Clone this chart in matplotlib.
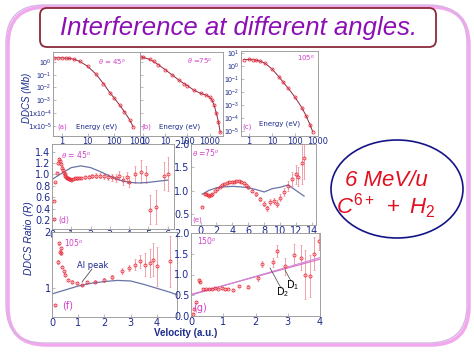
# -*- coding: utf-8 -*-
# Interference at different angles: 6 MeV/u C6+ + H2 DDCS slide

import matplotlib
matplotlib.use('Agg')
import matplotlib.pyplot as plt
from matplotlib.patches import FancyBboxPatch, Ellipse

W, H = 474, 355

# ---- top row: DDCS (Mb) vs electron energy (eV)
energy_a = [0.5, 0.7, 1, 1.5, 2, 3, 5, 10, 20, 40, 70, 100, 170, 250, 400, 550]
ddcs_a = [2.0, 2.1, 2.1, 2.0, 1.9, 1.6, 1.1, 0.45, 0.12, 0.02, 4e-3, 1.6e-3, 4e-4, 1.3e-4, 3e-5, 8e-6]

energy_b = [0.8, 1, 2, 3, 5, 10, 20, 40, 70, 100, 200, 400, 700, 1000, 1300, 1600, 2000, 2500, 3000]
ddcs_b = [2.5, 2.3, 1.6, 1.1, 0.6, 0.25, 0.1, 0.04, 0.02, 0.014, 6e-3, 3.5e-3, 2.5e-3, 1.8e-3, 1e-3, 4e-4, 1e-4, 2e-5, 3e-6]

energy_c = [0.6, 1, 1.5, 2, 3, 5, 10, 20, 30, 50, 100, 200, 300, 450, 600]
ddcs_c = [3.0, 3.2, 3.0, 2.8, 2.4, 1.6, 0.6, 0.15, 0.06, 0.02, 4e-3, 6e-4, 1.5e-4, 3e-5, 8e-6]

# ---- middle / bottom rows: DDCS ratio vs electron velocity (a.u.)
vel_d = [0.09, 0.12, 0.17, 0.26, 0.3, 0.35, 0.4, 0.45, 0.5, 0.55, 0.6, 0.65, 0.7, 0.75, 0.8,
         0.85, 0.9, 0.95, 1.0, 1.1, 1.2, 1.3, 1.4, 1.5, 1.7, 1.9, 2.1, 2.3, 2.5, 2.7, 2.9,
         3.1, 3.3, 3.5, 3.7, 3.9, 4.0, 4.3, 4.6, 4.9, 5.1, 5.4, 5.8, 6.0]
ratio_d = [0.22, 0.54, 0.86, 1.03, 1.2, 1.27, 1.24, 1.18, 1.12, 1.07, 1.03, 1.0, 0.98, 0.96,
           0.94, 0.93, 0.92, 0.92, 0.91, 0.92, 0.93, 0.93, 0.94, 0.94, 0.95, 0.96, 0.97, 0.98,
           0.98, 0.97, 0.96, 0.95, 0.93, 0.98, 0.90, 0.95, 0.87, 1.0, 1.05, 1.0, 0.38, 0.42, 0.97, 1.0]
err_d = [0.01, 0.01, 0.01, 0.01, 0.02, 0.02, 0.02, 0.02, 0.02, 0.02, 0.02, 0.02, 0.02, 0.02,
         0.02, 0.02, 0.02, 0.02, 0.02, 0.02, 0.02, 0.02, 0.02, 0.02, 0.03, 0.03, 0.03, 0.04,
         0.04, 0.05, 0.05, 0.06, 0.07, 0.08, 0.08, 0.1, 0.1, 0.15, 0.2, 0.15, 0.25, 0.3, 0.25, 0.3]
vel_d_theory = [0, 0.5, 1, 1.5, 2, 2.5, 3, 3.5, 4, 4.5, 5, 5.5, 6]
ratio_d_theory = [0.91, 1.02, 1.12, 1.15, 1.12, 1.05, 0.97, 0.9, 0.86, 0.85, 0.86, 0.88, 0.9]

vel_e = [0.2, 0.5, 0.7, 0.9, 1.1, 1.3, 1.5, 1.8, 2.1, 2.4, 2.7, 3.0, 3.3, 3.6, 3.9, 4.2, 4.5,
         4.8, 5.1, 5.4, 5.7, 6.0, 6.5, 7.0, 7.5, 8.0, 8.3, 8.7, 9.2, 9.6, 10.0, 10.5, 11.0,
         11.5, 12.0, 12.3, 12.7, 13.0]
ratio_e = [0.65, 0.93, 0.92, 0.9, 0.89, 0.9, 0.93, 0.98, 1.03, 1.08, 1.12, 1.15, 1.17, 1.18,
           1.18, 1.19, 1.2, 1.2, 1.18, 1.16, 1.12, 1.07, 1.0, 0.92, 0.82, 0.72, 0.62, 0.75,
           0.78, 0.72, 0.85, 0.97, 1.1, 1.25, 1.35, 1.3, 1.6, 1.7]
err_e = [0.01, 0.01, 0.01, 0.01, 0.01, 0.01, 0.01, 0.01, 0.01, 0.01, 0.01, 0.02, 0.02, 0.02,
         0.02, 0.02, 0.02, 0.02, 0.02, 0.02, 0.02, 0.03, 0.03, 0.04, 0.04, 0.05, 0.05, 0.06,
         0.06, 0.07, 0.08, 0.08, 0.1, 0.15, 0.2, 0.2, 0.45, 0.45]
vel_e_theory = [0.2, 1, 2, 3, 4, 5, 6, 7, 8, 9, 10, 11, 12, 13]
ratio_e_theory = [0.92, 1.0, 1.06, 1.08, 1.09, 1.08, 1.06, 1.02, 0.97, 1.04, 1.07, 1.12, 1.0, 0.88]

vel_f = [0.13, 0.23, 0.27, 0.3, 0.33, 0.36, 0.39, 0.45, 0.5, 0.62, 0.75, 0.94, 1.14, 1.33,
         1.65, 1.97, 2.28, 2.67, 2.92, 3.17, 3.37, 3.56, 3.75, 3.87, 4.0, 4.5]
ratio_f = [0.7, 1.47, 1.8, 1.65, 1.71, 1.62, 1.38, 1.3, 1.24, 1.15, 1.12, 1.09, 1.06, 1.11,
           1.12, 1.15, 1.2, 1.31, 1.36, 1.42, 1.48, 1.42, 1.45, 1.51, 1.39, 1.48]
err_f = [0.02, 0.03, 0.03, 0.03, 0.03, 0.03, 0.02, 0.02, 0.02, 0.02, 0.02, 0.02, 0.02, 0.02,
         0.03, 0.03, 0.04, 0.05, 0.06, 0.1, 0.12, 0.2, 0.25, 0.3, 0.35, 0.45]
vel_f_theory = [0, 0.5, 1, 1.5, 2, 2.5, 3, 3.5, 4, 4.5, 4.8]
ratio_f_theory = [0.9, 0.97, 1.04, 1.09, 1.12, 1.14, 1.13, 1.07, 1.0, 0.93, 0.88]

vel_g = [0.05, 0.1, 0.16, 0.26, 0.28, 0.36, 0.45, 0.55, 0.65, 0.75, 0.85, 0.95, 1.05, 1.15,
         1.3, 1.5, 1.77, 2.09, 2.2, 2.55, 2.67, 2.9, 3.2, 3.41, 3.52, 3.7, 3.8, 3.97]
ratio_g = [0.06, 0.17, 0.33, 0.86, 0.82, 0.66, 0.64, 0.66, 0.65, 0.67, 0.66, 0.68, 0.65, 0.66,
           0.63, 0.72, 0.71, 0.91, 1.25, 1.29, 1.57, 1.2, 1.48, 1.4, 1.0, 0.96, 1.5, 1.8]
err_g = [0.01, 0.02, 0.02, 0.03, 0.03, 0.02, 0.02, 0.02, 0.02, 0.02, 0.02, 0.02, 0.02, 0.02,
         0.02, 0.03, 0.04, 0.06, 0.08, 0.1, 0.15, 0.2, 0.25, 0.3, 0.6, 0.5, 0.4, 0.2]
vel_g_theory = [0, 4]
ratio_g_d1 = [0.52, 1.37]
ratio_g_d2 = [0.5, 1.41]

RED = '#e8303c'
ERR = '#f2a0a8'
THEO = '#6a74a6'
PINK = '#d040c8'
NAVY = '#1c2a8c'
SPINE = '#a0a0a0'

plt.rcParams['mathtext.fontset'] = 'custom'
plt.rcParams['mathtext.it'] = 'Liberation Sans:italic'
plt.rcParams['mathtext.rm'] = 'Liberation Sans'


def box(x0, y0, x1, y1):
    return [x0 / W, 1 - y1 / H, (x1 - x0) / W, (y1 - y0) / H]


def style(ax, size=6.5):
    for s in ax.spines.values():
        s.set_color(SPINE)
        s.set_linewidth(0.7)
    ax.tick_params(direction='in', length=2, width=0.5, colors=SPINE,
                   labelcolor=NAVY, labelsize=size, pad=1)


fig = plt.figure(figsize=(W / 100, H / 100), dpi=100)
fig.patch.set_facecolor('white')

# ---- top row
top_ylim = (10 ** -5.8, 10 ** 0.78)
for rect, en, dd, xlim in [((53, 52, 140, 136), energy_a, ddcs_a, (0.47, 690)),
                           ((140, 52, 223, 136), energy_b, ddcs_b, (0.74, 4000)),
                           ((241, 51, 318, 136), energy_c, ddcs_c, (0.46, 750))]:
    ax = fig.add_axes(box(*rect))
    ax.set_xscale('log')
    ax.set_yscale('log')
    ax.plot(en, dd, color='#8a2a4a', lw=0.7)
    ax.plot(en, dd, 'o', ms=2.2, mfc='none', mec=RED, mew=0.6)
    ax.set_xlim(*xlim)
    ax.set_xticks([1, 10, 100, 1000])
    ax.set_xticklabels(['1', '10', '100', '1000'])
    ax.minorticks_off()
    style(ax, 6)
    if rect[0] == 53:
        ax.set_ylim(*top_ylim)
        ax.set_yticks([1, 0.1, 0.01, 1e-3, 1e-4, 1e-5])
        ax.set_yticklabels([r'$10^0$', r'$10^{-1}$', r'$10^{-2}$', r'$10^{-3}$',
                            r'1x$10^{-4}$', r'1x$10^{-5}$'])
    elif rect[0] == 140:
        ax.set_ylim(*top_ylim)
        ax.set_yticks([1, 0.1, 0.01, 1e-3, 1e-4, 1e-5])
        ax.set_yticklabels([])
    else:
        ax.set_ylim(10 ** -5.4, 10 ** 1.15)
        ax.set_yticks([10, 1, 0.1, 0.01, 1e-3, 1e-4, 1e-5])
        ax.set_yticklabels([r'$10^{1}$', r'$10^0$', r'$10^{-1}$', r'$10^{-2}$',
                            r'$10^{-3}$', r'$10^{-4}$', r'$10^{-5}$'])
    ax.tick_params(axis='y', labelsize=5)

# ---- ratio panels
panels = [
    ((52, 144, 174, 229), vel_d, ratio_d, err_d, vel_d_theory, ratio_d_theory,
     (0, 6.33), (0.04, 1.535), range(0, 7), [0.2, 0.4, 0.6, 0.8, 1.0, 1.2, 1.4], '%.1f'),
    ((191, 144, 316, 225), vel_e, ratio_e, err_e, vel_e_theory, ratio_e_theory,
     (-1.2, 14.5), (0.26, 2.0), range(0, 15, 2), [0.5, 1.0, 1.5, 2.0], '%.1f'),
    ((52, 232, 177, 317), vel_f, ratio_f, err_f, vel_f_theory, ratio_f_theory,
     (0, 4.77), (0.49, 2.0), range(0, 5), [1, 2], '%d'),
    ((191, 233, 320, 316), vel_g, ratio_g, err_g, None, None,
     (0, 4.0), (0.0, 2.0), range(0, 5), [0.0, 0.5, 1.0, 1.5, 2.0], '%.1f'),
]
for rect, v, r, e, vt, rt, xl, yl, xt, yt, fmt in panels:
    ax = fig.add_axes(box(*rect))
    ax.errorbar(v, r, yerr=e, fmt='o', ms=2.2, mfc='none', mec=RED, mew=0.6,
                ecolor=ERR, elinewidth=0.7, capsize=1, capthick=0.5)
    if vt is not None:
        ax.plot(vt, rt, color=THEO, lw=0.9)
    else:
        ax.plot(vel_g_theory, ratio_g_d1, color='#e070c8', lw=0.9)
        ax.plot(vel_g_theory, ratio_g_d2, color='#c888d8', lw=0.7)
    ax.set_xlim(*xl)
    ax.set_ylim(*yl)
    ax.set_xticks(list(xt))
    ax.set_yticks(yt)
    ax.set_yticklabels([fmt % t for t in yt])
    style(ax, 7)

# ---- overlay for slide decoration and text
ov = fig.add_axes([0, 0, 1, 1], zorder=10)
ov.set_xlim(0, W)
ov.set_ylim(H, 0)
ov.axis('off')
ov.patch.set_alpha(0)

ov.add_patch(FancyBboxPatch((8, 7), 461, 338, boxstyle='round,pad=0,rounding_size=38',
                            ec='#f2a8ec', fc='none', lw=2.5))
ov.add_patch(FancyBboxPatch((6, 5), 461, 338, boxstyle='round,pad=0,rounding_size=38',
                            ec='#d8b4e4', fc='none', lw=1.0))
ov.add_patch(FancyBboxPatch((40, 8), 396, 39, boxstyle='round,pad=0,rounding_size=7',
                            ec='#8a2a3a', fc='white', lw=1.3))
ov.text(239, 28, 'Interference at different angles.', ha='center', va='center',
        fontsize=18.5, style='italic', color='#8c10b4', family='Liberation Sans')

ov.add_patch(Ellipse((397, 189), 132, 98, ec='#141488', fc='none', lw=1.2))
ov.text(386, 181, '6 MeV/u', ha='center', va='center', fontsize=16, style='italic',
        color='#e01020', family='Liberation Sans')
ov.text(386, 206, r'$\mathit{C^{6+}\ +\ H_2}$', ha='center', va='center', fontsize=16,
        color='#e01020')

ov.text(27, 98, 'DDCS (Mb)', rotation=90, ha='center', va='center', fontsize=7,
        style='italic', color=NAVY, family='Liberation Sans')
ov.text(29, 238, 'DDCS Ratio (R)', rotation=90, ha='center', va='center', fontsize=7.5,
        style='italic', color=NAVY, family='Liberation Sans')
ov.text(186, 333, 'Velocity (a.u.)', ha='center', va='center', fontsize=7,
        weight='bold', color=NAVY, family='Liberation Sans')

for x, y, s in [(97, 127, 'Energy (eV)'), (180, 127, 'Energy (eV)'), (280, 124, 'Energy (eV)')]:
    ov.text(x, y, s, ha='center', va='center', fontsize=5, color=NAVY)
for x, y, s, fs in [(62, 127, '(a)', 5), (146, 127, '(b)', 5), (247, 127, '(c)', 5),
                    (112, 62, r'$\theta$ = 45$^o$', 5), (200, 61, r'$\theta$ =75$^o$', 5),
                    (306, 58, '105$^o$', 5), (64, 221, '(d)', 5.5), (76, 155, r'$\theta$ = 45$^o$', 5.5),
                    (197, 220, '(e)', 5), (206, 152, r'$\theta$ =75$^o$', 5.5),
                    (68, 306, '(f)', 7), (74, 243, '105$^o$', 5.5),
                    (200, 308, '(g)', 7), (207, 240, '150$^o$', 5.5)]:
    ov.text(x, y, s, ha='center', va='center', fontsize=fs, color=PINK)

ov.text(93, 265, 'Al peak', ha='center', va='center', fontsize=6, color=NAVY)
ov.plot([92, 82], [269, 282], color='#303030', lw=0.5)
ov.text(283, 292, r'D$_2$', ha='center', va='center', fontsize=7, color='black')
ov.text(293, 285, r'D$_1$', ha='center', va='center', fontsize=7, color='black')
ov.plot([281, 270], [288, 268], color='#404040', lw=0.5)
ov.plot([291, 285], [281, 270], color='#404040', lw=0.5)

plt.savefig('out.png', dpi=100)
